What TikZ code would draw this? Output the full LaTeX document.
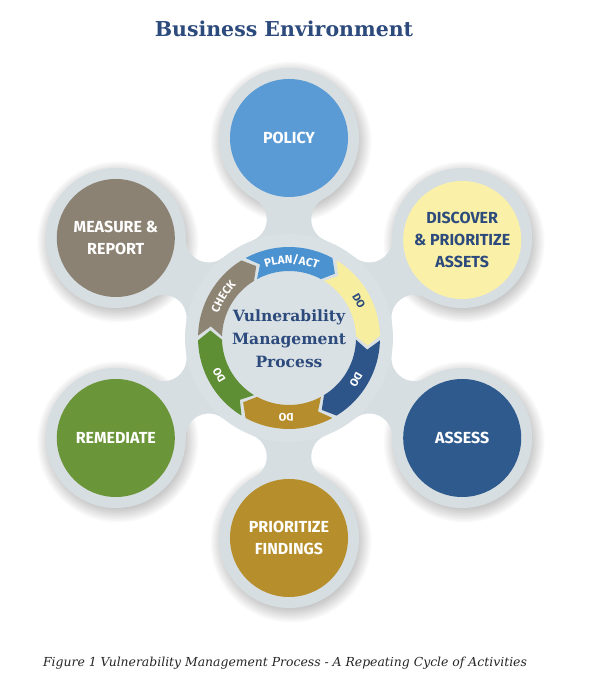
\documentclass[tikz,border=0pt]{standalone}
\usepackage{fontspec}
\setmainfont{DejaVu Serif}
\newfontfamily\labfont{Fira Sans}
\usetikzlibrary{decorations.text}
\definecolor{ringgray}{HTML}{D6DEE1}
\definecolor{centergray}{HTML}{D9E1E4}
\definecolor{policyblue}{HTML}{5B9BD5}
\definecolor{discyellow}{HTML}{FAF0A8}
\definecolor{assessblue}{HTML}{2E5A8E}
\definecolor{prioritgold}{HTML}{B68F2C}
\definecolor{remedgreen}{HTML}{6B9539}
\definecolor{measuretaupe}{HTML}{8C8273}
\definecolor{navy}{HTML}{2C4A7C}
\definecolor{planblue}{HTML}{4B92D0}
\definecolor{doyellow}{HTML}{F7EEA0}
\definecolor{dodark}{HTML}{2D558A}
\definecolor{dogold}{HTML}{B58D2D}
\definecolor{dogreen}{HTML}{5F8F35}
\definecolor{checktaupe}{HTML}{8E8473}
\tikzset{
  ringdisc/.style={circle, fill=ringgray, minimum size=140pt, inner sep=0pt},
  satdisc/.style={circle, minimum size=118pt, inner sep=0pt, align=center, text=white,
    font=\labfont\bfseries\fontsize{16}{22}\selectfont},
  seglab/.style={inner sep=0pt, text=white, font=\labfont\bfseries\fontsize{11}{12}\selectfont},
  shadelayer/.style={fill=black, opacity=0.022},
  neckshape/.style={fill=ringgray}
}
\begin{document}
\begin{tikzpicture}[x=1pt,y=1pt]
\useasboundingbox (0,0) rectangle (596,700);
\fill[white] (0,0) rectangle (596,700);
\coordinate (ctr) at (289,362);
% title
\node[text=navy, font=\bfseries\fontsize{20.5}{24}\selectfont] (title) at (284,671) {Business Environment};
% soft shadows
\foreach \ang in {90,30,-30,-90,-150,150}{
  \foreach \k in {0,...,9}{
    \pgfmathsetmacro\rr{66+1.6*\k}
    \fill[shadelayer, shift={(ctr)}, shift={(2,-4)}] (\ang:200) circle[radius=\rr pt];
  }
}
% necks
\foreach \ang in {90,30,-30,-90,-150,150}{
  \fill[neckshape, shift={(ctr)}, rotate=\ang] (97.2,37.0) arc[start angle=200.9,end angle=330.9,radius=23pt]
    -- (138.8,-34.0) arc[start angle=29.1,end angle=159.1,radius=23pt] -- cycle;
}
% satellites
\node[ringdisc] (polR) at (289,562) {};
\node[satdisc, fill=policyblue] (pol) at (289,562) {POLICY};
\node[ringdisc] (disR) at (462.2,462) {};
\node[satdisc, fill=discyellow, text=navy] (dis) at (462.2,460) {DISCOVER\\\& PRIORITIZE\\ASSETS};
\node[ringdisc] (assR) at (462.2,262) {};
\node[satdisc, fill=assessblue] (ass) at (462.2,262) {ASSESS};
\node[ringdisc] (priR) at (289,162) {};
\node[satdisc, fill=prioritgold] (pri) at (289,162) {PRIORITIZE\\FINDINGS};
\node[ringdisc] (remR) at (115.8,262) {};
\node[satdisc, fill=remedgreen] (rem) at (115.8,262) {REMEDIATE};
\node[ringdisc] (meaR) at (115.8,462) {};
\node[satdisc, fill=measuretaupe] (mea) at (115.8,462) {MEASURE \&\\REPORT};
% core
\node[circle, fill=centergray, minimum size=208pt, inner sep=0pt] (core) at (ctr) {};
\begin{scope}[shift={(ctr)}]
\foreach \i/\col in {0/planblue,1/doyellow,2/dodark,3/dogold,4/dogreen,5/checktaupe}{
  \pgfmathsetmacro\A{118.5-60*\i}
  \pgfmathsetmacro\B{61.5-60*\i}
  \pgfmathsetmacro\An{\A-7}
  \pgfmathsetmacro\Bn{\B-7}
  \fill[\col] (\A:91) arc[start angle=\A, end angle=\B, radius=91pt] -- (\Bn:79)
     -- (\B:67) arc[start angle=\B, end angle=\A, radius=67pt] -- (\An:79) -- cycle;
}
\path[decorate, decoration={text along path, text color=white, text align=center,
   text={|\labfont\bfseries\fontsize{11.5}{12}\selectfont|PLAN/ACT}}]
   (114:74.5) arc[start angle=114, end angle=62, radius=74.5pt];
\node[seglab, rotate=-60, text=navy] (ldo1) at (28:79) {DO};
\node[seglab, rotate=-120] (ldo2) at (-32:79) {DO};
\node[seglab, rotate=180] (ldo3) at (-92:79) {DO};
\node[seglab, rotate=120] (ldo4) at (-152:79) {DO};
\path[decorate, decoration={text along path, text color=white, text align=center,
   text={|\labfont\bfseries\fontsize{11.5}{12}\selectfont|CHECK}}]
   (176:74.5) arc[start angle=176, end angle=120, radius=74.5pt];
\end{scope}
\node[text=navy, font=\bfseries\fontsize{15.5}{23}\selectfont, align=center, inner sep=1pt] (vmp) at (289,361) {Vulnerability\\Management\\Process};
% caption
\node[text=black!85, font=\itshape\fontsize{12.4}{14}\selectfont] (cap) at (285,37) {Figure 1 Vulnerability Management Process - A Repeating Cycle of Activities};
\end{tikzpicture}
\end{document}
